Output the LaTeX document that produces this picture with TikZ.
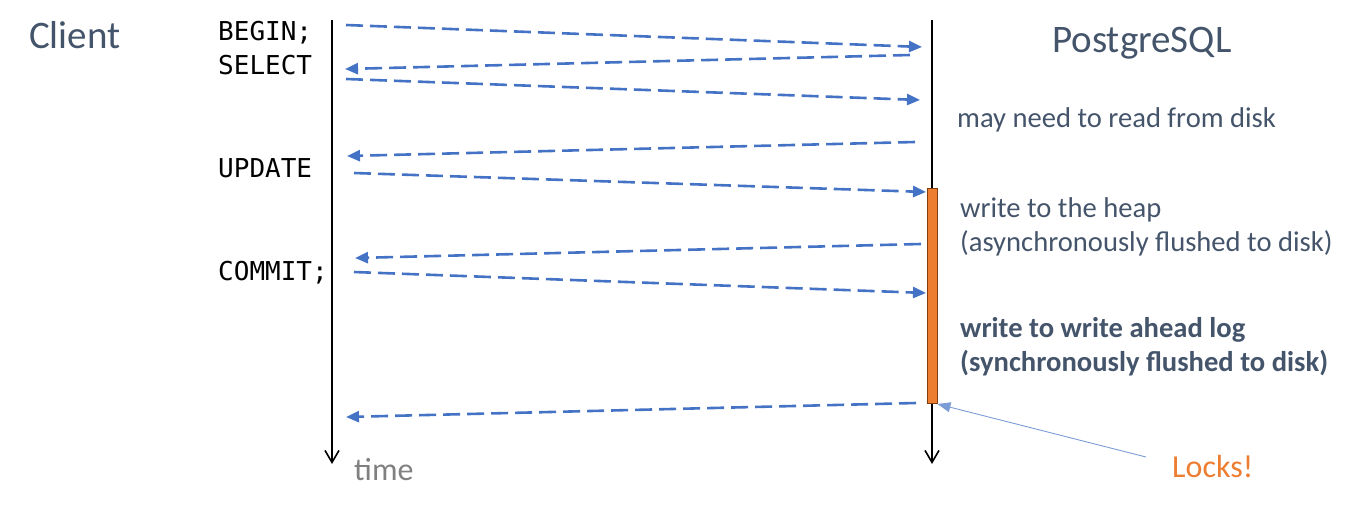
\documentclass[tikz,border=0pt]{standalone}
\usepackage{fontspec}
\setmainfont{Carlito}
\setmonofont{DejaVu Sans Mono}
\usetikzlibrary{arrows.meta}
\definecolor{txt}{HTML}{44546A}
\definecolor{arr}{HTML}{4472C4}
\definecolor{org}{HTML}{ED7D31}
\definecolor{orgd}{HTML}{843C0C}
\tikzset{
  msg/.style={draw=arr, line width=2.6pt, dash pattern=on 17pt off 7pt, -{Triangle[length=13pt,width=11pt]}},
  life/.style={draw=black, line width=1.6pt, -{Straight Barb[length=12pt,width=14pt,line width=1.6pt]}},
  lbl/.style={inner sep=0pt, anchor=base west, text=txt, font=\fontsize{28.6}{34}\selectfont},
  boldlbl/.style={lbl, font=\bfseries\fontsize{28.6}{34}\selectfont},
  big/.style={inner sep=0pt, anchor=base west, font=\fontsize{32}{38}\selectfont},
  sql/.style={inner sep=0pt, anchor=base west, text=black, font=\ttfamily\fontsize{26}{31}\selectfont},
  title/.style={inner sep=0pt, anchor=base west, text=txt, font=\fontsize{39}{46}\selectfont},
}
\begin{document}
\begin{tikzpicture}[x=1pt,y=-1pt]
\useasboundingbox (0,0) rectangle (1366,507);
% lifelines
\coordinate (ctop) at (332,20);
\coordinate (cbot) at (332,464);
\coordinate (stop) at (932,20);
\coordinate (sbot) at (932,464);
\draw[life] (ctop) -- (cbot);
\draw[life] (stop) -- (sbot);
% lock bar
\node[draw=orgd, fill=org, line width=1pt, minimum width=10pt, minimum height=215pt, inner sep=0pt, anchor=north] (bar) at (932,188) {};
% titles
\node[title] (client) at (29,48) {Client};
\node[title] (pg) at (1052,52) {PostgreSQL};
% sql
\node[sql] (begin) at (218,40) {BEGIN;};
\node[sql] (select) at (218,74) {SELECT};
\node[sql] (update) at (218,177) {UPDATE};
\node[sql] (commit) at (218,280) {COMMIT;};
% server notes
\node[lbl] (read) at (957,127) {may need to read from disk};
\node[lbl] (heap1) at (960,217) {write to the heap};
\node[lbl] (heap2) at (960,251) {(asynchronously flushed to disk)};
\node[boldlbl] (wal1) at (960,337) {write to write ahead log};
\node[boldlbl] (wal2) at (960,371) {(synchronously flushed to disk)};
\node[big, text=org] (locks) at (1172,477) {Locks!};
\node[big, text=gray] (time) at (354,480) {time};
% message endpoints
\coordinate (a1) at (346,25);  \coordinate (b1) at (922,47);
\coordinate (a2) at (910,55);  \coordinate (b2) at (345,69);
\coordinate (a3) at (346,79);  \coordinate (b3) at (920,100);
\coordinate (a4) at (915,142); \coordinate (b4) at (347,156);
\coordinate (a5) at (354,173); \coordinate (b5) at (926,192);
\coordinate (a6) at (921,244); \coordinate (b6) at (355,258);
\coordinate (a7) at (354,272); \coordinate (b7) at (926,293);
\coordinate (a8) at (916,403); \coordinate (b8) at (346,417);
\foreach \i in {1,...,8} { \draw[msg] (a\i) -- (b\i); }
% lock pointer
\coordinate (lk) at (1146,457);
\draw[draw=arr!70, line width=0.9pt, -{Triangle[length=13pt,width=10pt]}] (lk) -- (bar.south east);
\end{tikzpicture}
\end{document}
